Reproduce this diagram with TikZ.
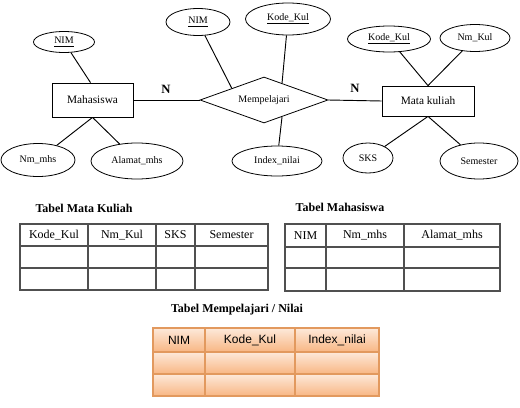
\documentclass[tikz,border=0pt]{standalone}
\usepackage{fontspec}
\setmainfont{Liberation Serif}
\newfontfamily\arialf{Liberation Sans}
\usetikzlibrary{shapes.geometric,calc}
\definecolor{gridc}{HTML}{505050}
\definecolor{peachtop}{HTML}{FDE9DA}
\definecolor{peachbot}{HTML}{F8B683}
\definecolor{peachline}{HTML}{E2995E}
\begin{document}
\begin{tikzpicture}[x=0.75pt,y=-0.75pt,
  ell/.style 2 args={draw,ellipse,inner sep=0pt,line width=0.6pt,minimum width=#1*0.75pt,minimum height=#2*0.75pt,font=\fontsize{7.5}{8}\selectfont},
  ent/.style 2 args={draw,rectangle,inner sep=0pt,line width=0.6pt,minimum width=#1*0.75pt,minimum height=#2*0.75pt,font=\fontsize{8.5}{9}\selectfont},
  rel/.style={draw,diamond,inner sep=0pt,line width=0.6pt,aspect=2.8,minimum width=128*0.75pt,minimum height=46*0.75pt,font=\fontsize{7.5}{9}\selectfont},
  card/.style={font=\bfseries\fontsize{9.5}{10}\selectfont},
  ttl/.style={font=\bfseries\fontsize{9}{10}\selectfont},
  hdr/.style={font=\fontsize{9}{10}\selectfont},
  hdrs/.style={font=\arialf\fontsize{9}{10}\selectfont},
  conn/.style={line width=0.7pt},
  grid/.style={draw=gridc,line width=1pt},
  pgrid/.style={draw=peachline,line width=1pt}
]
\useasboundingbox (0,0) rectangle (520,407);

% entities
\node[ent={81}{34}] (maha) at (92.5,100) {Mahasiswa};
\node[ent={92}{30}] (mk) at (428,101) {Mata kuliah};
\node[rel] (mp) at (264,100) {Mempelajari};

% attributes
\node[ell={61}{21}] (nim1) at (64,42) {\underline{NIM}};
\node[ell={74}{33}] (nmmhs) at (38,160) {Nm\_mhs};
\node[ell={92}{36}] (alamat) at (137,161) {Alamat\_mhs};
\node[ell={64}{27}] (nim2) at (198,22) {\underline{NIM}};
\node[ell={85}{32}] (kode2) at (288,19) {\underline{Kode\_Kul}};
\node[ell={90}{30}] (index) at (277,161) {Index\_nilai};
\node[ell={83}{26}] (kode3) at (389,39) {\underline{Kode\_Kul}};
\node[ell={70}{27}] (nmkul) at (475,38) {Nm\_Kul};
\node[ell={50}{30}] (sks) at (368,158) {SKS};
\node[ell={78}{36}] (sem) at (479,161) {Semester};

% cardinalities
\node[card] (n1) at (166,89) {N};
\node[card] (n2) at (355,88) {N};

% connectors
\coordinate (mpa) at ($(mp.west)!0.5!(mp.north)$);
\coordinate (mpb) at ($(mp.north)!0.28!(mp.east)$);
\coordinate (mpc) at ($(mp.south)!0.28!(mp.east)$);
\draw[conn] (nim1) -- ($(maha.north)+(-2,0)$);
\draw[conn] (maha.south) -- (nmmhs);
\draw[conn] (maha.south) -- (alamat);
\draw[conn] (maha.east) -- (mp.west);
\draw[conn] (mp.east) -- (mk.west);
\draw[conn] (nim2) -- (mpa);
\draw[conn] (kode2) -- (mpb);
\draw[conn] (index) -- (mpc);
\draw[conn] (kode3) -- (mk.north);
\draw[conn] (nmkul) -- (mk.north);
\draw[conn] (mk.south) -- (sks);
\draw[conn] (mk.south) -- (sem);

% Tabel Mata Kuliah
\node[ttl] (t1) at (84,208) {Tabel Mata Kuliah};
\draw[grid] (20,224) rectangle (268,290);
\foreach \y in {246,268} \draw[grid] (20,\y) -- (268,\y);
\foreach \x in {88,156,195} \draw[grid] (\x,224) -- (\x,290);
\node[hdr] (h11) at (54,235) {Kode\_Kul};
\node[hdr] (h12) at (122,235) {Nm\_Kul};
\node[hdr] (h13) at (175.5,235) {SKS};
\node[hdr] (h14) at (231.5,235) {Semester};

% Tabel Mahasiswa
\node[ttl] (t2) at (340,207) {Tabel Mahasiswa};
\draw[grid] (285,224) rectangle (500,291);
\foreach \y in {247,268} \draw[grid] (285,\y) -- (500,\y);
\foreach \x in {326,404} \draw[grid] (\x,224) -- (\x,291);
\node[hdr] (h21) at (305.5,235.5) {NIM};
\node[hdr] (h22) at (365,235.5) {Nm\_mhs};
\node[hdr] (h23) at (452,235.5) {Alamat\_mhs};

% Tabel Mempelajari / Nilai
\node[ttl] (t3) at (237,310) {Tabel Mempelajari / Nilai};
\foreach \ya/\yb in {328/352,352/374,374/396}
  \shade[top color=peachtop,bottom color=peachbot] (153,\ya) rectangle (379,\yb);
\draw[pgrid] (153,328) rectangle (379,396);
\foreach \y in {352,374} \draw[pgrid] (153,\y) -- (379,\y);
\foreach \x in {205,295} \draw[pgrid] (\x,328) -- (\x,396);
\node[hdrs] (h31) at (179,340) {NIM};
\node[hdrs] (h32) at (250,340) {Kode\_Kul};
\node[hdrs] (h33) at (337,340) {Index\_nilai};
\end{tikzpicture}
\end{document}
